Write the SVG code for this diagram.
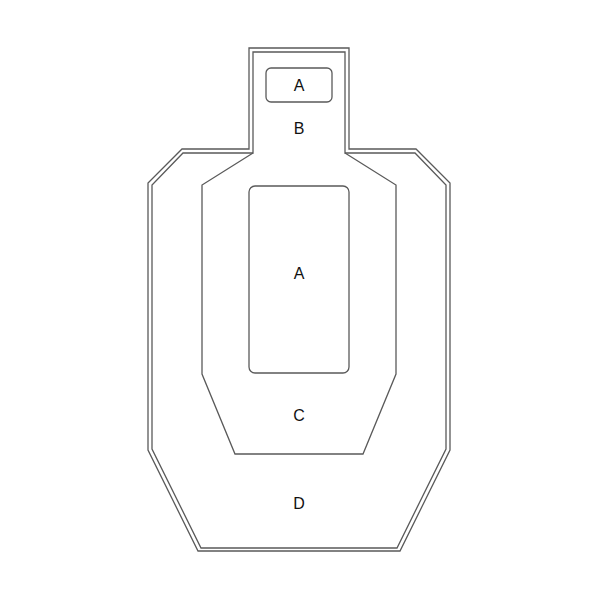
<svg xmlns="http://www.w3.org/2000/svg" width="600" height="600" viewBox="0 0 600 600">
<style>
.ln{fill:none;stroke:#5a5a5a;stroke-width:1.3;stroke-linejoin:miter}
.lb{font-family:"Liberation Sans",Arial,sans-serif;font-size:16px;fill:#111;text-anchor:middle}
</style>
<rect width="600" height="600" fill="#fff"/>
<g id="outline">
<path class="ln" d="M249,48 H349 V149 H416 L450,183 V450 L400,551 H198 L148,450 V183 L182,149 H249 Z"/>
<path class="ln" d="M253,52 H345 V153 H415 L446,185 V449 L397,548 H201 L152,449 V185 L183,153 H253 Z"/>
</g>
<g id="zone-head-A">
<rect class="ln" x="266" y="68" width="66" height="34" rx="5"/>
<text class="lb" x="299" y="91">A</text>
</g>
<g id="zone-head-B">
<text class="lb" x="299" y="134">B</text>
</g>
<g id="zone-C">
<path class="ln" d="M253,153 L202,185 V374 L235,454 H363 L396,374 V185 L345,153"/>
<text class="lb" x="299" y="421">C</text>
</g>
<g id="zone-body-A">
<rect class="ln" x="249" y="186" width="100" height="187" rx="6"/>
<text class="lb" x="299" y="279">A</text>
</g>
<g id="zone-D">
<text class="lb" x="299" y="509">D</text>
</g>
</svg>
